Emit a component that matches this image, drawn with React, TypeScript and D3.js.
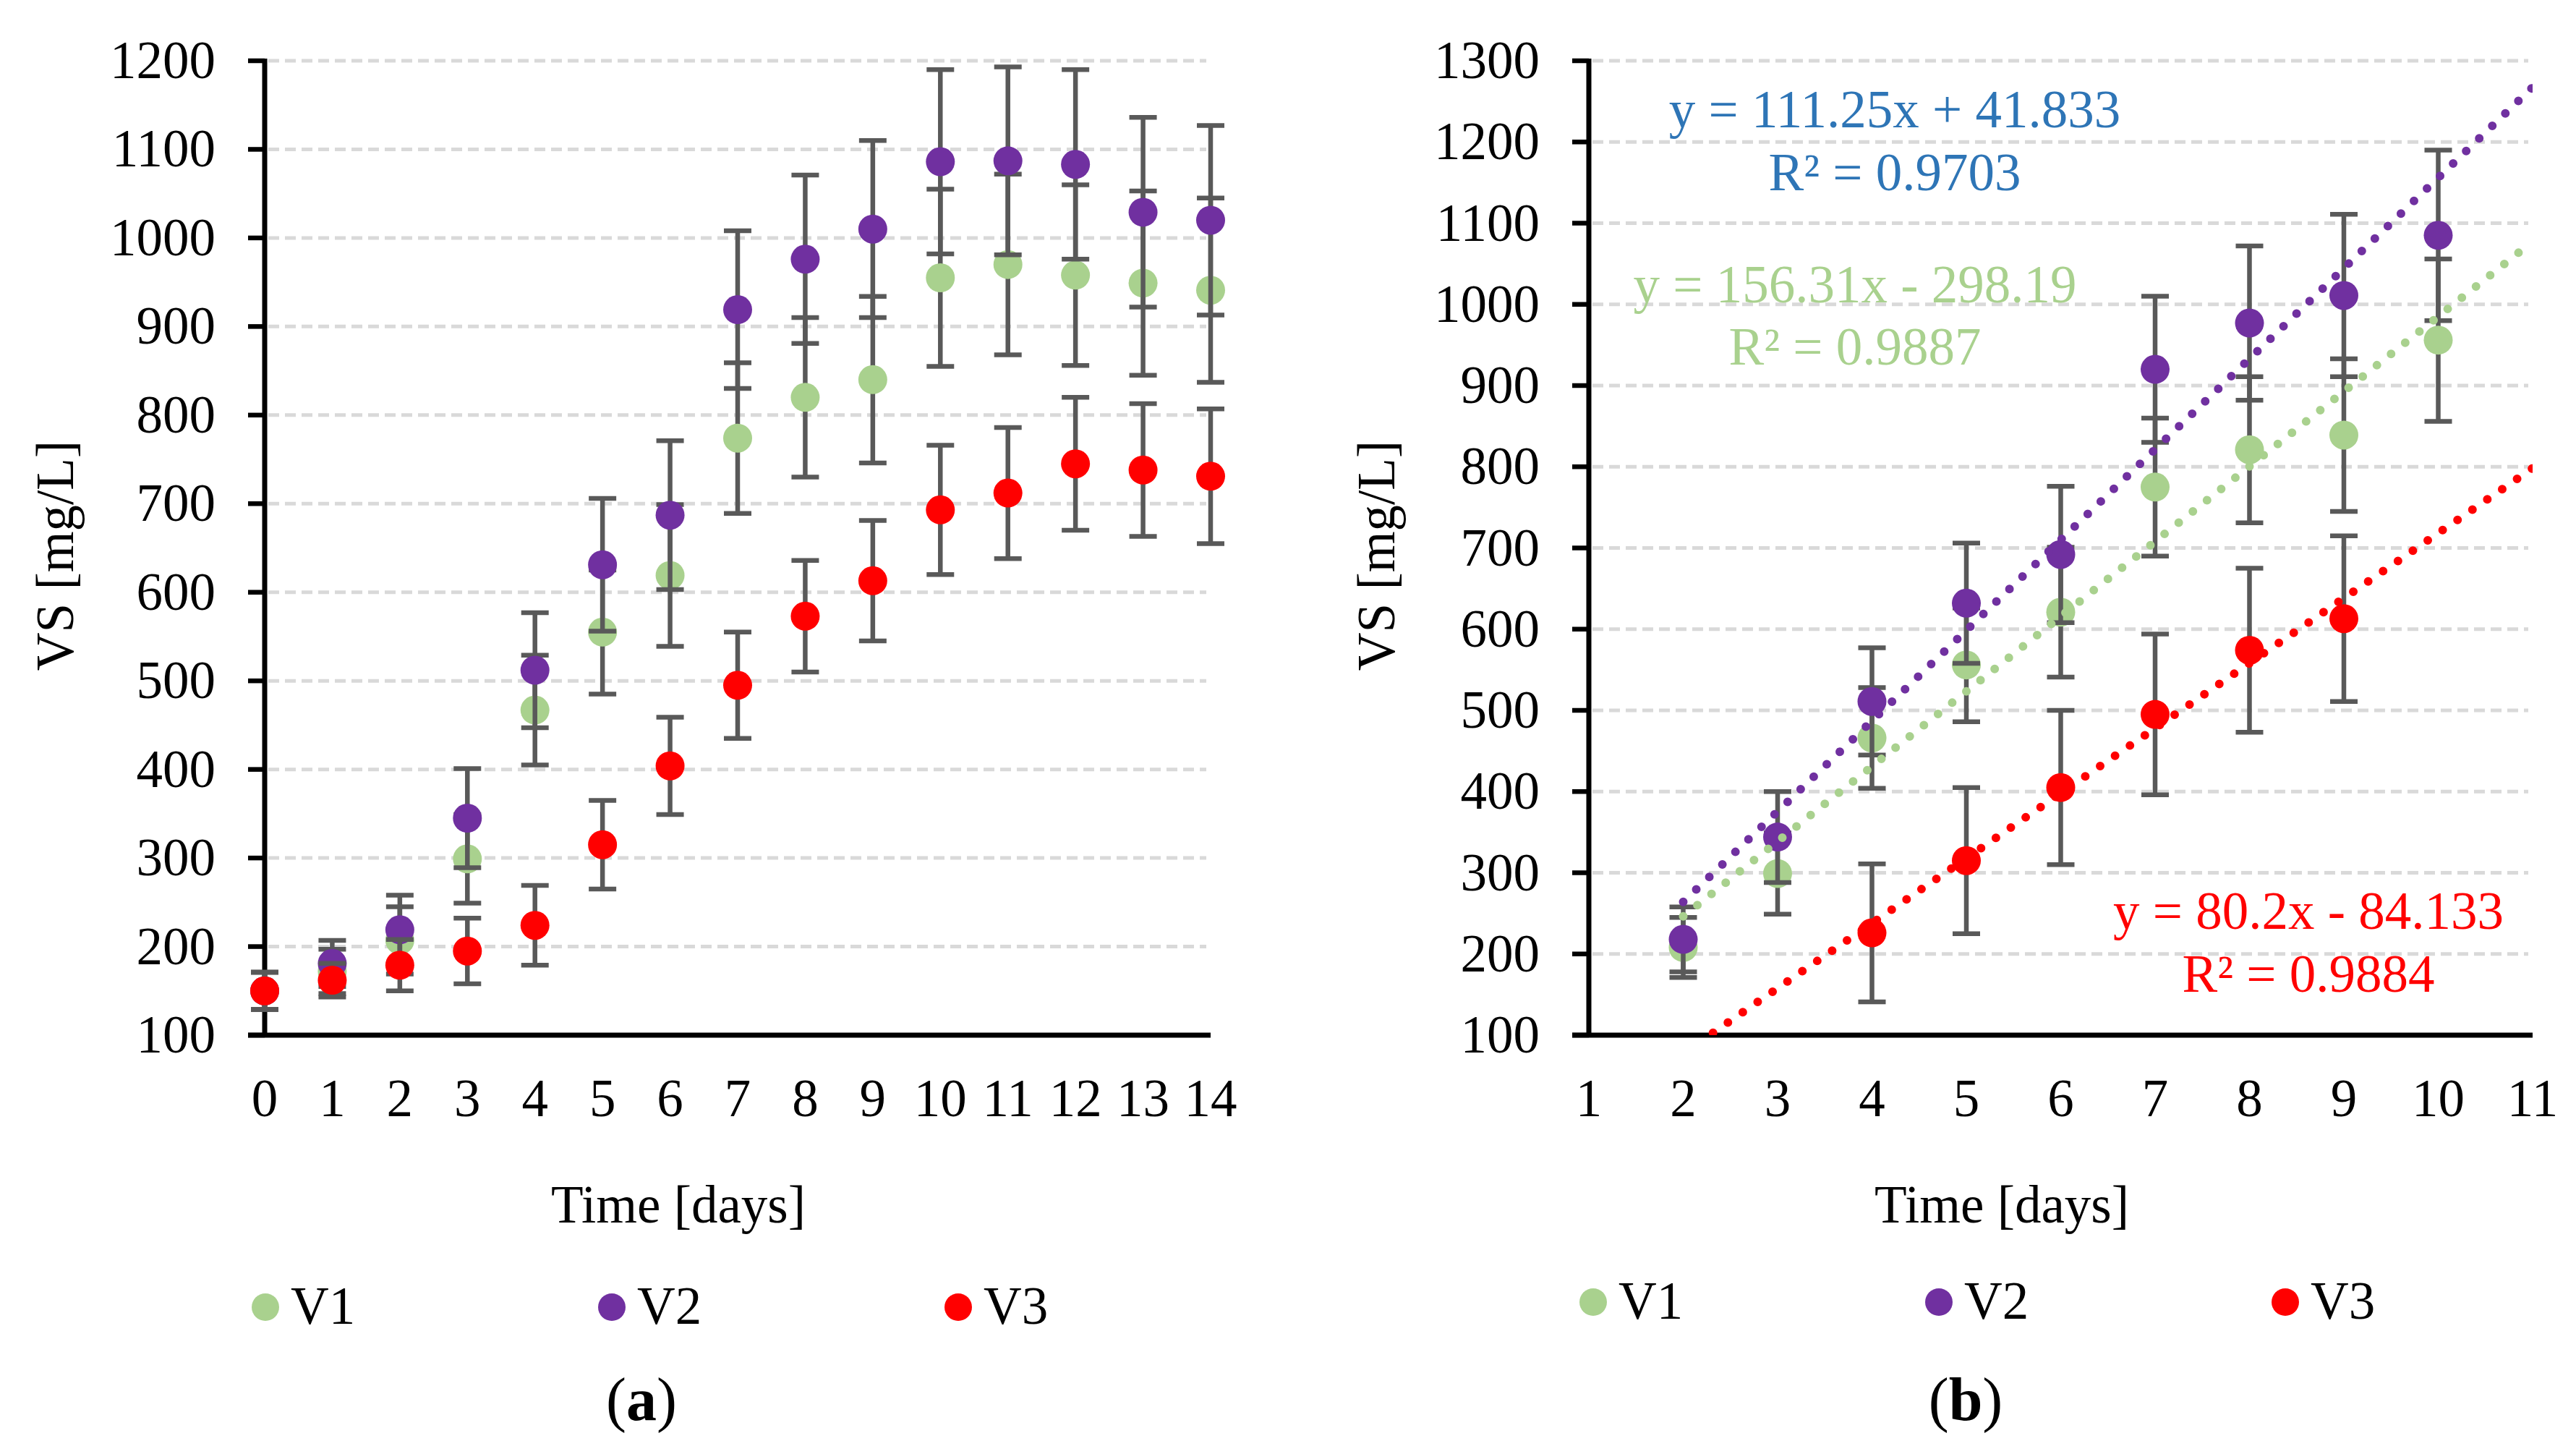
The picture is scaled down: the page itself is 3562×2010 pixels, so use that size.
import React from 'react';
import * as d3 from 'd3';

const W = 3562;
const H = 2010;
const FONT = '"Liberation Serif", "Times New Roman", Times, serif';

const COLOR_V1 = '#A9D18E';
const COLOR_V2 = '#7030A0';
const COLOR_V3 = '#FF0000';
const ERR_COLOR = '#595959';
const GRID_COLOR = '#D9D9D9';

// (a) whole run, days 0-14
const daysA = [0, 1, 2, 3, 4, 5, 6, 7, 8, 9, 10, 11, 12, 13, 14];
const v1A = [150, 172, 207, 299, 467, 555, 619, 774, 820, 840, 955, 970, 958, 949, 941];
const v1ErrA = [21, 25, 38, 50, 62, 70, 80, 85, 90, 94, 100, 102, 102, 104, 104];
const v2A = [150, 181, 219, 345, 512, 631, 687, 919, 976, 1010, 1086, 1087, 1083, 1029, 1020];
const v2ErrA = [21, 26, 39, 56, 65, 75, 84, 89, 95, 100, 104, 106, 107, 107, 107];
const v3A = [150, 162, 179, 195, 224, 315, 404, 495, 573, 613, 693, 712, 745, 738, 731];
const v3ErrA = [21, 19, 29, 37, 45, 50, 55, 60, 63, 68, 73, 74, 75, 75, 76];

// (b) growth phase used for the linear fits
const daysB = [2, 3, 4, 5, 6, 7, 8, 9, 10];
const v1B = [208, 299, 466, 556, 621, 775, 821, 839, 956];
const v1ErrB = [37, 50, 62, 70, 80, 85, 90, 94, 100];
const v2B = [218, 344, 511, 632, 692, 920, 977, 1011, 1085];
const v2ErrB = [40, 56, 66, 74, 84, 90, 95, 100, 105];
const daysB3 = [4, 5, 6, 7, 8, 9];
const v3B = [226, 315, 405, 495, 574, 613];
const v3ErrB = [85, 90, 95, 99, 101, 102];

const yTicksA = d3.range(100, 1201, 100);
const yTicksB = d3.range(100, 1301, 100);
const xTicksA = d3.range(0, 15);
const xTicksB = d3.range(1, 12);

const eqLines = ['y = 111.25x + 41.833', 'y = 156.31x - 298.19', 'y = 80.2x - 84.133'];
const r2Lines = ['R² = 0.9703', 'R² = 0.9887', 'R² = 0.9884'];
const eqColors = ['#2E75B6', COLOR_V1, COLOR_V3];

type Series = { name: string; color: string; days: number[]; vals: number[]; errs: number[] };

function linearFit(xs: number[], ys: number[]) {
  const mx = d3.mean(xs) as number;
  const my = d3.mean(ys) as number;
  let sxy = 0, sxx = 0;
  xs.forEach((x, i) => { sxy += (x - mx) * (ys[i] - my); sxx += (x - mx) * (x - mx); });
  const slope = sxy / sxx;
  return { slope, intercept: my - slope * mx };
}

const fontStyle = { fontFamily: FONT, fontSize: 73, fill: '#000' };

function Panel({ id, x, y, yTicks, xTicks, series, trends, titleX, titleCx, legendXs, legendY, caption, captionX }: any) {
  const [x0, x1] = x.range();
  const [yBottom, yTop] = y.range();
  const line = d3.line<[number, number]>().x(d => x(d[0])).y(d => y(d[1]));

  return (
    <g>
      <defs>
        <clipPath id={id}>
          <rect x={x0} y={yTop - 5} width={x1 - x0} height={yBottom - yTop + 5} />
        </clipPath>
      </defs>

      {/* dashed gridlines */}
      {yTicks.filter((t: number) => t > yTicks[0]).map((t: number) => (
        <line key={t} x1={x0 + 5} x2={x1 - 6} y1={y(t)} y2={y(t)}
          stroke={GRID_COLOR} strokeWidth={5} strokeDasharray="15 8" />
      ))}

      {/* axes */}
      <line x1={x0} x2={x0} y1={yTop - 3} y2={yBottom} stroke="#000" strokeWidth={7} />
      <line x1={x0 - 23} x2={x1} y1={yBottom} y2={yBottom} stroke="#000" strokeWidth={7} />
      {yTicks.map((t: number) => (
        <g key={t}>
          <line x1={x0 - 23} x2={x0} y1={y(t)} y2={y(t)} stroke="#000" strokeWidth={6.5} />
          <text x={x0 - 68} y={y(t) + 24} textAnchor="end" style={fontStyle}>{t}</text>
        </g>
      ))}
      {xTicks.map((t: number) => (
        <text key={t} x={x(t)} y={yBottom + 112} textAnchor="middle" style={fontStyle}>{t}</text>
      ))}

      <text x={titleCx} y={1690} textAnchor="middle" style={fontStyle}>Time [days]</text>
      <text transform={`translate(${titleX},768) rotate(-90)`} textAnchor="middle" style={fontStyle}>VS [mg/L]</text>

      {/* error bars and markers, one series at a time */}
      {series.map((s: Series) => (
        <g key={s.name}>
          {s.days.map((d, i) => {
            const cx = x(d);
            const hi = y(s.vals[i] + s.errs[i]);
            const lo = y(s.vals[i] - s.errs[i]);
            return (
              <g key={d} stroke={ERR_COLOR} strokeWidth={6.5}>
                <line x1={cx} x2={cx} y1={hi} y2={lo} />
                <line x1={cx - 19} x2={cx + 19} y1={hi} y2={hi} />
                <line x1={cx - 19} x2={cx + 19} y1={lo} y2={lo} />
              </g>
            );
          })}
          {s.days.map((d, i) => (
            <circle key={d} cx={x(d)} cy={y(s.vals[i])} r={20} fill={s.color} />
          ))}
        </g>
      ))}

      {/* linear trendlines, dotted */}
      <g clipPath={`url(#${id})`}>
        {trends.map((s: Series) => {
          const f = linearFit(s.days, s.vals);
          const pts: [number, number][] = [2, 11].map(t => [t, f.slope * t + f.intercept]);
          return (
            <path key={s.name} d={line(pts) as string} fill="none" stroke={s.color}
              strokeWidth={12} strokeLinecap="round" strokeDasharray="0 25" />
          );
        })}
      </g>

      {/* legend */}
      {series.map((s: Series, i: number) => (
        <g key={s.name}>
          <circle cx={legendXs[i]} cy={legendY} r={19} fill={s.color} />
          <text x={legendXs[i] + 35} y={legendY + 23} style={fontStyle}>{s.name}</text>
        </g>
      ))}

      <text x={captionX} y={1963} textAnchor="middle" style={{ ...fontStyle, fontSize: 84 }}>
        (<tspan fontWeight="bold">{caption}</tspan>)
      </text>
    </g>
  );
}

export default function App() {
  const xA = d3.scaleLinear().domain([0, 14]).range([366, 1674]);
  const yA = d3.scaleLinear().domain([100, 1200]).range([1431, 84]);
  const xB = d3.scaleLinear().domain([1, 11]).range([2197, 3502]);
  const yB = d3.scaleLinear().domain([100, 1300]).range([1431, 84]);

  const seriesA: Series[] = [
    { name: 'V1', color: COLOR_V1, days: daysA, vals: v1A, errs: v1ErrA },
    { name: 'V2', color: COLOR_V2, days: daysA, vals: v2A, errs: v2ErrA },
    { name: 'V3', color: COLOR_V3, days: daysA, vals: v3A, errs: v3ErrA },
  ];
  const seriesB: Series[] = [
    { name: 'V1', color: COLOR_V1, days: daysB, vals: v1B, errs: v1ErrB },
    { name: 'V2', color: COLOR_V2, days: daysB, vals: v2B, errs: v2ErrB },
    { name: 'V3', color: COLOR_V3, days: daysB3, vals: v3B, errs: v3ErrB },
  ];

  const eqPos = [
    { cx: 2620, y1: 176, y2: 263 },
    { cx: 2565, y1: 418, y2: 504 },
    { cx: 3192, y1: 1284, y2: 1371 },
  ];

  return (
    <svg width={W} height={H} style={{ position: 'absolute', left: 0, top: 0, background: '#fff' }}>
      <rect width={W} height={H} fill="#fff" />
      <Panel id="clipA" x={xA} y={yA} yTicks={yTicksA} xTicks={xTicksA} series={seriesA} trends={[]}
        titleX={101} titleCx={938} legendXs={[367, 846, 1325]} legendY={1807} caption="a" captionX={887} />
      <Panel id="clipB" x={xB} y={yB} yTicks={yTicksB} xTicks={xTicksB} series={seriesB} trends={seriesB}
        titleX={1928} titleCx={2768} legendXs={[2203, 2681, 3160]} legendY={1800} caption="b" captionX={2718} />
      {eqLines.map((t, i) => (
        <g key={t} style={{ ...fontStyle, fill: eqColors[i] }}>
          <text x={eqPos[i].cx} y={eqPos[i].y1} textAnchor="middle" fill={eqColors[i]}>{t}</text>
          <text x={eqPos[i].cx} y={eqPos[i].y2} textAnchor="middle" fill={eqColors[i]}>{r2Lines[i]}</text>
        </g>
      ))}
    </svg>
  );
}
